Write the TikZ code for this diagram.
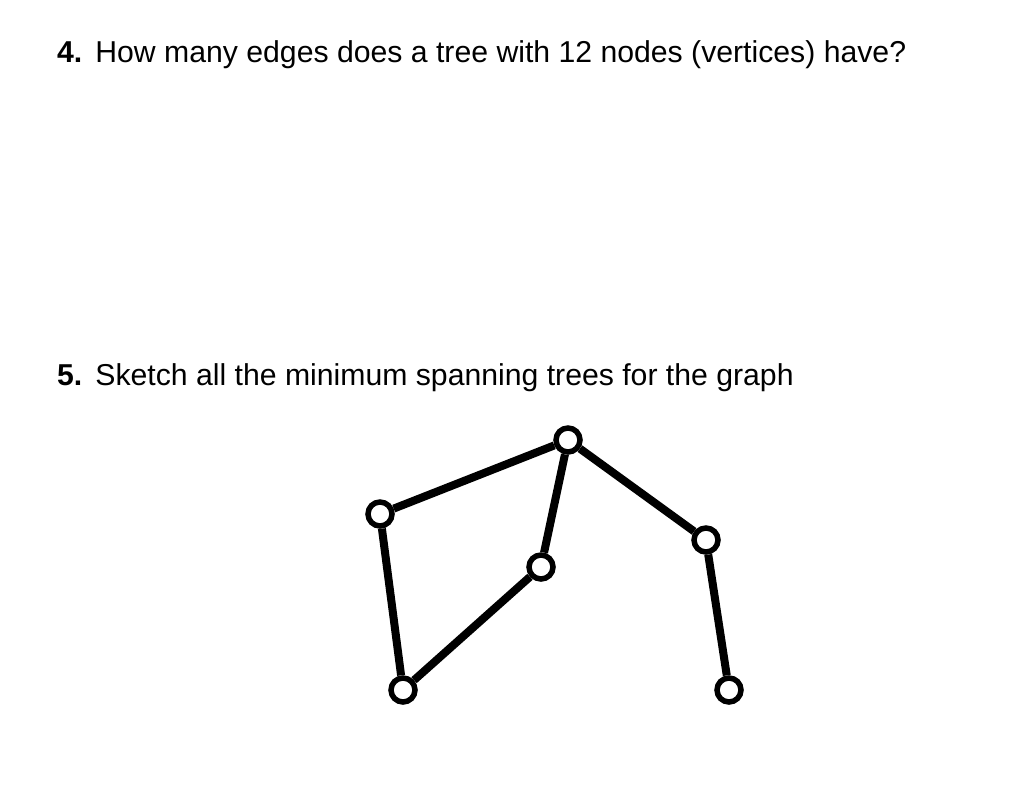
\documentclass[tikz,border=0pt]{standalone}
\usepackage{fontspec}
\setmainfont{Liberation Sans}
\begin{document}
\begin{tikzpicture}[x=1pt,y=-1pt,
  vert/.style={circle,draw=black,fill=white,line width=5.5pt,minimum size=24pt,inner sep=0pt},
  edge/.style={line width=8pt},
  q/.style={anchor=west,font=\fontsize{30.2}{34}\selectfont,inner sep=0pt}]
\useasboundingbox (0,0) rectangle (1010,796);
\node[q] (q4) at (57,55) {\textbf{4.}\hspace{13pt}How many edges does a tree with 12 nodes (vertices) have?};
\node[q] (q5) at (57,378) {\textbf{5.}\hspace{13pt}Sketch all the minimum spanning trees for the graph};
\node[vert] (a) at (568,440) {};
\node[vert] (b) at (380,514) {};
\node[vert] (c) at (541,567) {};
\node[vert] (d) at (706,540) {};
\node[vert] (e) at (403,690) {};
\node[vert] (f) at (729,690) {};
\draw[edge] (b) -- (a);
\draw[edge] (a) -- (c);
\draw[edge] (a) -- (d);
\draw[edge] (b) -- (e);
\draw[edge] (e) -- (c);
\draw[edge] (d) -- (f);
\end{tikzpicture}
\end{document}
